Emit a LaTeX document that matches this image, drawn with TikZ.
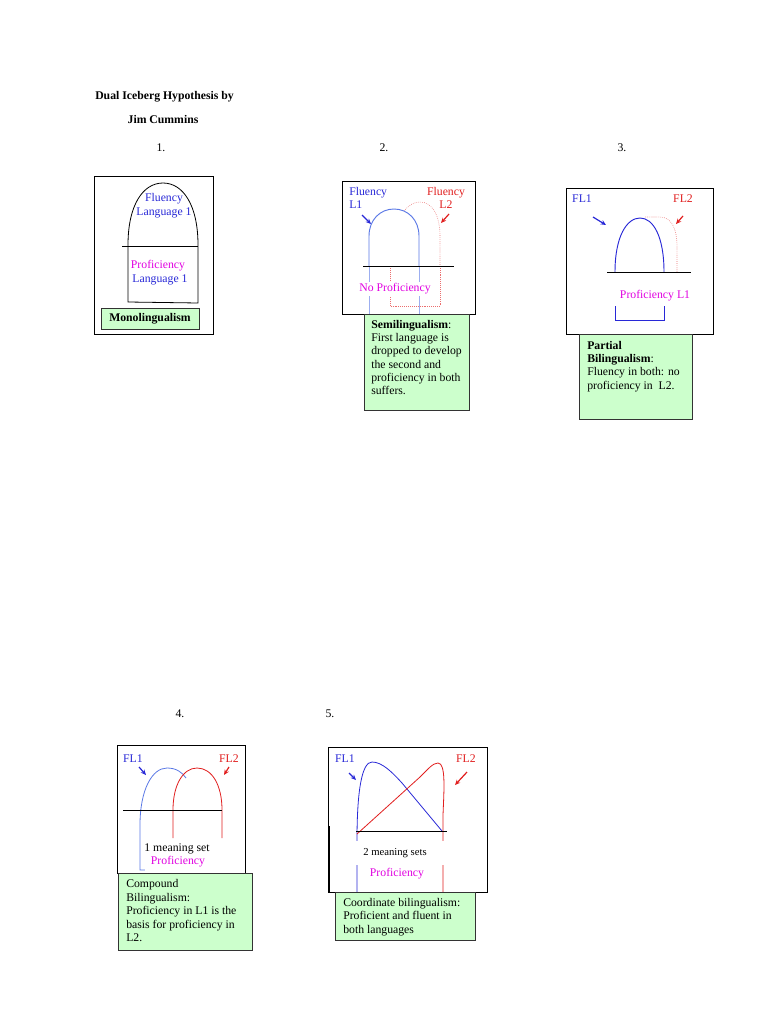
\documentclass[tikz,border=0pt]{standalone}
\usepackage{fontspec}
\setmainfont{Liberation Serif}
\usetikzlibrary{arrows.meta}
\definecolor{mblue}{RGB}{40,40,215}
\definecolor{lblue}{RGB}{90,120,230}
\definecolor{mred}{RGB}{225,30,30}
\definecolor{lred}{RGB}{235,110,110}
\definecolor{mmag}{RGB}{225,0,225}
\definecolor{gfill}{RGB}{204,255,204}
\tikzset{
  txt/.style={inner sep=0pt, font=\fontsize{8.8pt}{10pt}\selectfont},
  ttl/.style={inner sep=0pt, font=\fontsize{8.8pt}{10pt}\selectfont\bfseries},
  frame/.style={draw=black, line width=0.6pt},
  gbox/.style={draw=black!80, line width=0.7pt, fill=gfill},
  hline/.style={draw=black, line width=0.6pt},
  barrow/.style={-{Stealth[length=4pt,width=3.5pt]}, mblue, line width=0.9pt},
  rarrow/.style={-{Stealth[length=4pt,width=3.5pt]}, mred, line width=0.9pt},
  dotred/.style={draw=lred, line width=0.45pt, densely dotted},
  wbg/.style={fill=white, inner sep=1.5pt}
}
\begin{document}
\begin{tikzpicture}[x=0.75pt,y=-0.75pt]
\useasboundingbox[fill=white] (0,0) rectangle (768,1024);

% ---------- title ----------
\node[ttl, anchor=west] (title1) at (95,97) {Dual Iceberg Hypothesis by};
\node[ttl] (title2) at (163,120) {Jim Cummins};
\node[txt] (n1) at (161,148) {1.};
\node[txt] (n2) at (384,148) {2.};
\node[txt] (n3) at (622,148) {3.};
\node[txt] (n4) at (180,714) {4.};
\node[txt] (n5) at (330,714) {5.};

% ---------- panel 1 ----------
\draw[frame] (94,176) rectangle (213,334);
\draw[line width=0.6pt] (128,302) -- (128,245) .. controls (128,205) and (143,183) .. (163,183)
   .. controls (183,183) and (198,205) .. (198,245) -- (198,303) -- cycle;
\draw[hline] (122,246) -- (198,246);
\node[txt, text=mblue, align=center, font=\fontsize{8.8pt}{10.5pt}\selectfont] (p1f) at (164,206) {Fluency\\Language 1};
\node[txt, text=mmag] (p1p) at (158,266) {Proficiency};
\node[txt, text=mblue] (p1l) at (160,280) {Language 1};
\draw[gbox] (101,308) rectangle (199,329);
\node[ttl] (p1b) at (150,319) {Monolingualism};

% ---------- panel 2 ----------
\draw[frame] (342,181) rectangle (475,314);
% red dotted iceberg (L2)
\draw[dotred] (404,211) .. controls (409,205) and (414,202) .. (420,202)
   .. controls (432,202) and (440,215) .. (440,236) -- (440,266);
\draw[dotred] (390,268) -- (390,306) -- (440,306) -- (440,268);
% blue iceberg (L1)
\draw[draw=lblue, line width=0.7pt] (369,266) -- (369,236) .. controls (369,220) and (380,209) .. (394,209)
   .. controls (408,209) and (419,220) .. (419,236) -- (419,266);
\draw[draw=lblue!60, line width=0.5pt] (369,266) -- (369,314);
\draw[draw=lblue!60, line width=0.5pt] (419,266) -- (419,314);
\draw[hline] (363,266) -- (454,266);
\node[txt, text=mblue, align=left, anchor=west] (p2f1) at (349,198) {Fluency\\L1};
\node[txt, text=mred, align=center] (p2f2) at (446,198) {Fluency\\L2};
\draw[barrow] (362,215) -- (371,224);
\draw[rarrow] (449,214) -- (441,223);
\node[txt, wbg, text=mmag] (p2p) at (395,289) {No Proficiency};
\draw[gbox] (364,314) rectangle (469,410);
\node[txt, anchor=north west, align=left, font=\fontsize{8.8pt}{9.9pt}\selectfont] (p2b) at (371,320)
  {\textbf{Semilingualism}:\\First language is\\dropped to develop\\the second and\\proficiency in both\\suffers.};

% ---------- panel 3 ----------
\draw[frame] (566,188) rectangle (713,334);
\draw[dotred] (645,217) -- (660,217) .. controls (672,217) and (677,230) .. (677,246) -- (677,272);
\draw[draw=mblue, line width=0.7pt] (615,272) .. controls (615,236) and (627,218) .. (640,218)
   .. controls (653,218) and (664,236) .. (664,272);
\draw[hline] (607,272) -- (691,272);
\draw[draw=mblue, line width=0.7pt] (615,306) -- (615,320) -- (664,320) -- (664,306);
\node[txt, text=mblue] (p3f1) at (582,199) {FL1};
\node[txt, text=mred] (p3f2) at (683,199) {FL2};
\draw[barrow] (593,217) -- (606,225);
\draw[rarrow] (683,216) -- (676,224);
\node[txt, text=mmag] (p3p) at (655,296) {Proficiency L1};
\draw[gbox] (579,334) rectangle (692,419);
\node[txt, anchor=north west, align=left, font=\fontsize{8.8pt}{9.9pt}\selectfont] (p3b) at (587,341)
  {\textbf{Partial}\\\textbf{Bilingualism}:\\Fluency in both: no\\proficiency in\ \ L2.};

% ---------- panel 4 ----------
\draw[frame] (117,745) rectangle (245,873);
\draw[draw=lblue, line width=0.6pt] (146,870) -- (140,870) -- (140,825) .. controls (140,790) and (152,768) .. (167,768)
   .. controls (176,768) and (182,772) .. (186,778);
\draw[draw=mred, line width=0.6pt] (173,838) -- (173,810) .. controls (173,785) and (183,768) .. (197,768)
   .. controls (212,768) and (222,785) .. (222,810) -- (222,838);
\draw[hline] (123,810) -- (222,810);
\node[txt, text=mblue] (p4f1) at (133,759) {FL1};
\node[txt, text=mred] (p4f2) at (229,759) {FL2};
\draw[barrow] (139,767) -- (146,775);
\draw[rarrow] (229,767) -- (224,775);
\path[fill=white] (145,841) rectangle (212,873);
\node[txt] (p4m) at (177,849) {1 meaning set};
\node[txt, text=mmag] (p4p) at (178,862) {Proficiency};
\draw[gbox] (118,873) rectangle (252,950);
\node[txt, anchor=north west, align=left, font=\fontsize{8.8pt}{10.2pt}\selectfont] (p4b) at (126,879)
  {Compound\\Bilingualism:\\Proficiency in L1 is the\\basis for proficiency in\\L2.};

% ---------- panel 5 ----------
\draw[frame] (328,747) rectangle (487,892);
\draw[line width=1.3pt] (329,826) -- (329,892);
\draw[draw=mblue, line width=0.6pt] (357,893) -- (357,840) .. controls (357,790) and (362,762) .. (372,762)
   .. controls (382,762) and (392,772) .. (402,783) -- (442,831);
\draw[draw=mred, line width=0.6pt] (357,834) -- (420,777) .. controls (428,769) and (433,763) .. (438,763)
   .. controls (446,763) and (444,790) .. (443,815) -- (443,893);
\draw[hline] (356,831) -- (447,831);
\path[fill=white] (350,841) rectangle (450,865);
\node[txt, font=\fontsize{8pt}{9pt}\selectfont] (p5m) at (395,853) {2 meaning sets};
\node[txt, text=mmag] (p5p) at (397,874) {Proficiency};
\node[txt, text=mblue] (p5f1) at (345,759) {FL1};
\node[txt, text=mred] (p5f2) at (466,759) {FL2};
\draw[barrow] (349,773) -- (356,780);
\draw[rarrow] (467,772) -- (455,785);
\draw[gbox] (335,892) rectangle (475,940);
\node[txt, anchor=north west, align=left, font=\fontsize{8.8pt}{10pt}\selectfont] (p5b) at (343,898)
  {Coordinate bilingualism:\\Proficient and fluent in\\both languages};
\end{tikzpicture}
\end{document}
